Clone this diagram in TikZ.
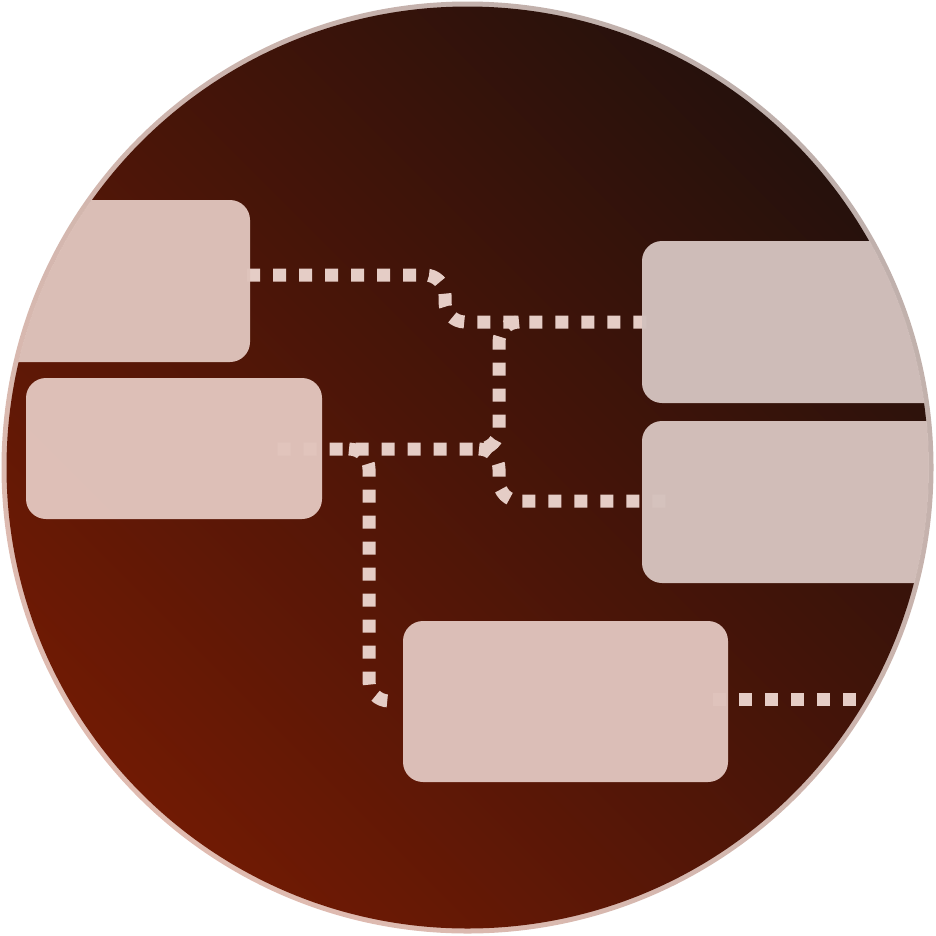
\documentclass[tikz,border=0pt]{standalone}
\definecolor{bgdark}{HTML}{26110C}
\definecolor{bgmid}{HTML}{4A1508}
\definecolor{bglight}{HTML}{701A04}
\definecolor{ringtop}{HTML}{BFB0AC}
\definecolor{ringbot}{HTML}{E0BBB0}
\definecolor{dotc}{HTML}{E5CDC6}
\definecolor{boxa}{HTML}{DEC3BB}
\definecolor{boxb}{HTML}{E1C4BC}
\definecolor{boxc}{HTML}{D2C1BD}
\definecolor{boxd}{HTML}{D5C2BD}
\definecolor{boxe}{HTML}{DFC3BC}
\begin{document}
\begin{tikzpicture}[x=1pt,y=-1pt,
  card/.style={rectangle, rounded corners=20pt, inner sep=0pt, fill opacity=0.975},
  link/.style={draw=dotc, line width=13pt, dash pattern=on 13pt off 13pt, rounded corners=20pt}]
\useasboundingbox (0,0) rectangle (936,935);
\shade[top color=ringtop, bottom color=ringbot, shading angle=-45]
  (467.5,467.5) circle (466);
\shade[top color=bgdark, bottom color=bglight, middle color=bgmid, shading angle=-45]
  (467.5,467.5) circle (461);
\begin{scope}
\clip (467.5,467.5) circle (461.5);
% named points
\coordinate (a1) at (247,275);
\coordinate (c1) at (652,322);
\coordinate (j1) at (519,322);
\coordinate (j2) at (479,449);
\coordinate (j3) at (349,449);
\coordinate (b1) at (268,449);
\coordinate (d1) at (668,501);
\coordinate (e1) at (400,701);
\coordinate (e2) at (713,699);
\coordinate (off) at (866,699);
% connectors
\draw[link] (a1) -- (445,275) -- (445,322) -- (c1);
\draw[link] (j1) -- (499,322) -- (499,449) -- (b1);
\draw[link] (j2) -- (499,449) -- (499,501) -- (d1);
\draw[link] (j3) -- (369,449) -- (369,701) -- (e1);
\draw[link] (e2) -- (off);
% cards
\node[card, fill=boxa, minimum width=280pt, minimum height=162pt] (A) at (110,281) {};
\node[card, fill=boxb, minimum width=296pt, minimum height=141pt] (B) at (174,448.5) {};
\node[card, fill=boxc, minimum width=330pt, minimum height=162pt] (C) at (807,322) {};
\node[card, fill=boxd, minimum width=330pt, minimum height=162pt] (D) at (807,502) {};
\node[card, fill=boxe, minimum width=325pt, minimum height=161pt] (E) at (565.5,701.5) {};
\end{scope}
\end{tikzpicture}
\end{document}
